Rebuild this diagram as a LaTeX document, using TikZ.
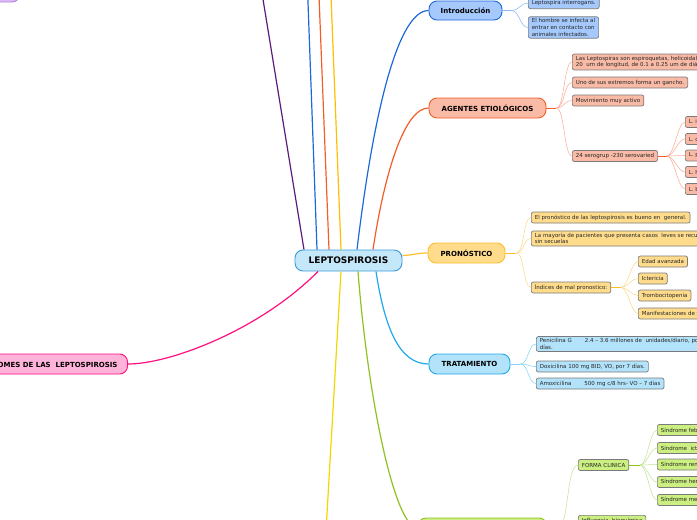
\documentclass[tikz,border=0pt]{standalone}
\usepackage{fontspec}
\setmainfont{DejaVu Sans}
\usetikzlibrary{positioning,calc}

\definecolor{rootfill}{HTML}{C5E7FA}
\definecolor{rootline}{HTML}{3A9BDC}
\definecolor{introline}{HTML}{1D68D8}
\definecolor{introfill}{HTML}{A5C9FC}
\definecolor{introtwig}{HTML}{8DB6F2}
\definecolor{agline}{HTML}{F45D27}
\definecolor{agfill}{HTML}{F9BAA6}
\definecolor{agtwig}{HTML}{F9AF97}
\definecolor{prline}{HTML}{FDBE2C}
\definecolor{prfill}{HTML}{FFDC8C}
\definecolor{prtwig}{HTML}{FDD98A}
\definecolor{trline}{HTML}{1FA9E8}
\definecolor{trfill}{HTML}{B2E3FA}
\definecolor{trtwig}{HTML}{86D3F5}
\definecolor{mcline}{HTML}{8DC21F}
\definecolor{mcfill}{HTML}{CBEF80}
\definecolor{mctwig}{HTML}{C3E497}
\definecolor{syline}{HTML}{FF0F7F}
\definecolor{syfill}{HTML}{FFB3D9}
\definecolor{puline}{HTML}{5B1A7D}
\definecolor{pufill}{HTML}{DDB8F5}
\definecolor{puborder}{HTML}{B283DA}
\definecolor{yeline}{HTML}{F2D600}
\definecolor{upgold}{HTML}{FFBF00}
\definecolor{leafline}{HTML}{7A7A7A}
\definecolor{leaftext}{HTML}{262626}

\tikzset{
  topic/.style={draw, rounded corners=8pt, line width=0.9pt, font=\fontsize{7}{8}\selectfont\bfseries, minimum height=20pt, inner sep=0pt},
  leaf/.style={draw=leafline, rounded corners=2pt, line width=0.7pt, text=leaftext, font=\fontsize{5.5}{6.6}\selectfont, align=left, inner xsep=3.5pt, inner ysep=2pt, minimum height=11pt, anchor=west},
  branch/.style={line width=1.2pt},
  stub/.style={line width=1pt},
  twig/.style={line width=0.55pt},
}

\begin{document}
\begin{tikzpicture}[x=1pt,y=-1pt]
    \useasboundingbox (0,0) rectangle (697,520);

    % Central topic
    \node[topic, fill=rootfill, draw=rootline, minimum width=107pt, minimum height=21pt, font=\fontsize{9}{10}\selectfont\bfseries] (lepto) at (348.5,260.5) {LEPTOSPIROSIS};

    % Main topics
    \node[topic, fill=introfill, draw=introline, minimum width=73pt, minimum height=19pt] (intro) at (465.5,10.5) {Introducción};
    \node[topic, fill=agfill, draw=agline, minimum width=117pt] (agentes) at (487.5,108) {AGENTES ETIOLÓGICOS};
    \node[topic, fill=prfill, draw=prline, minimum width=77pt] (pronos) at (466.5,253) {PRONÓSTICO};
    \node[topic, fill=trfill, draw=trline, minimum width=81pt] (trata) at (469.5,364) {TRATAMIENTO};
    \node[topic, fill=syfill, draw=syline, anchor=east, inner xsep=10pt] (sindromes) at (128,364) {SÍNDROMES DE LAS~ LEPTOSPIROSIS};
    \node[topic, fill=mcfill, draw=mcline, minimum width=129pt] (clinica) at (482.5,528) {};
    \node[topic, fill=pufill, draw=puborder, minimum width=100pt] (origen) at (-30,-8) {};

    % Far ends of branches outside the page
    \coordinate (puend) at (250,-80);
    \coordinate (blend) at (305,-80);
    \coordinate (orend) at (316,-80);
    \coordinate (goend) at (328,-80);
    \coordinate (yeend) at (322,600);

    % Branches
    \draw[branch, puline] ($(lepto.north)+(-44.5,0)$) -- (puend);
    \draw[branch, introline] ($(lepto.north)+(-31.5,0)$) -- (blend);
    \draw[branch, agline] ($(lepto.north)+(-19.5,0)$) -- (orend);
    \draw[branch, upgold] ($(lepto.north)+(-7.5,0)$) -- (goend);
    \draw[branch, introline] ($(lepto.north)+(8.5,0)$) .. controls (375,100) and (400,10.5) .. (intro.west);
    \draw[branch, agline] ($(lepto.north)+(24.5,0)$) .. controls (385,170) and (405,108) .. (agentes.west);
    \draw[branch, prline] ($(lepto.east)+(0,-5)$) .. controls (415,255) and (416,253) .. (pronos.west);
    \draw[branch, trline] ($(lepto.south)+(27.5,0)$) .. controls (385,330) and (400,364) .. (trata.west);
    \draw[branch, mcline] ($(lepto.south)+(9.5,0)$) .. controls (368,400) and (395,528) .. (clinica.west);
    \draw[branch, yeline] ($(lepto.south)+(-7.5,0)$) -- (yeend);
    \draw[branch, syline] ($(lepto.south)+(-30.5,0)$) .. controls (260,330) and (170,364) .. (sindromes.east);

    % Introduccion
    \node[leaf, fill=introfill, anchor=south west] (i1) at (528,9) {Leptospira interrogans.};
    \node[leaf, fill=introfill] (i2) at (528,27.5) {El hombre se infecta al\\entrar en contacto con\\animales infectados.};
    \coordinate (ihub) at ($(intro.east)+(9,0)$);
    \draw[stub, introtwig] (intro.east) -- (ihub);
    \foreach \k in {i1,i2}
        \draw[twig, introtwig] (ihub) .. controls +(8,0) and +(-8,0) .. (\k.west);

    % Agentes etiologicos
    \node[leaf, fill=agfill] (a1) at (572,62) {Las Leptospiras son espiroquetas, helicoidales, de 6 a\\20~ um de longitud, de 0.1 a 0.25 um de diámetro.};
    \node[leaf, fill=agfill] (a2) at (572,82.5) {Uno de sus extremos forma un gancho.};
    \node[leaf, fill=agfill] (a3) at (572,100.5) {Movimiento muy activo};
    \node[leaf, fill=agfill] (a4) at (572,156) {24 serogrup -230 serovaried};
    \coordinate (ahub) at ($(agentes.east)+(10,0)$);
    \draw[stub, agline] (agentes.east) -- (ahub);
    \foreach \k in {a1,a2,a3,a4}
        \draw[twig, agtwig] (ahub) .. controls +(8,0) and +(-8,0) .. (\k.west);

    \node[leaf, fill=agfill] (s1) at (685,122) {L. icterohaemorrhagiae};
    \node[leaf, fill=agfill] (s2) at (685,139) {L. canicola};
    \node[leaf, fill=agfill] (s3) at (685,155.5) {L. pomona};
    \node[leaf, fill=agfill] (s4) at (685,172) {L. hebdomadis};
    \node[leaf, fill=agfill] (s5) at (685,189) {L. bataviae};
    \coordinate (shub) at ($(a4.east)+(9,0)$);
    \draw[stub, agline] (a4.east) -- (shub);
    \foreach \k in {s1,s2,s3,s4,s5}
        \draw[twig, agtwig] (shub) .. controls +(7,0) and +(-7,0) .. (\k.west);

    % Pronostico
    \node[leaf, fill=prfill] (p1) at (531,217.5) {El pronóstico de las leptospirosis es bueno en~ general.};
    \node[leaf, fill=prfill] (p2) at (531,238.5) {La mayoría de pacientes que presenta casos~ leves se recuperan\\sin secuelas};
    \node[leaf, fill=prfill] (p3) at (531,287.5) {Índices de mal pronostico:};
    \coordinate (phub) at ($(pronos.east)+(11,0)$);
    \draw[stub, prline] (pronos.east) -- (phub);
    \foreach \k in {p1,p2,p3}
        \draw[twig, prtwig] (phub) .. controls +(8,0) and +(-8,0) .. (\k.west);

    \node[leaf, fill=prfill] (q1) at (638,261.5) {Edad avanzada};
    \node[leaf, fill=prfill] (q2) at (638,278.5) {Ictericia};
    \node[leaf, fill=prfill] (q3) at (638,295.5) {Trombocitopenia};
    \node[leaf, fill=prfill] (q4) at (638,313.5) {Manifestaciones de sangrado};
    \coordinate (qhub) at ($(p3.east)+(10,0)$);
    \draw[stub, prline] (p3.east) -- (qhub);
    \foreach \k in {q1,q2,q3,q4}
        \draw[twig, prtwig] (qhub) .. controls +(7,0) and +(-7,0) .. (\k.west);

    % Tratamiento
    \node[leaf, fill=trfill] (t1) at (536,344) {Penicilina G\hspace{13pt}2.4 – 3.6 millones de~ unidades/diario, por 7\\días.};
    \node[leaf, fill=trfill] (t2) at (536,366.5) {Doxicilina 100 mg BID, VO, por 7 días.};
    \node[leaf, fill=trfill] (t3) at (536,383.5) {Amoxicilina\hspace{13pt}500 mg c/8 hrs- VO – 7 días};
    \coordinate (thub) at ($(trata.east)+(10,0)$);
    \draw[stub, trtwig] (trata.east) -- (thub);
    \foreach \k in {t1,t2,t3}
        \draw[twig, trtwig] (thub) .. controls +(8,0) and +(-8,0) .. (\k.west);

    % Sindromes / forma clinica
    \node[leaf, fill=mcfill] (m1) at (578,465) {FORMA CLINICA};
    \node[leaf, fill=mcfill, anchor=north west] (m2) at (578,515) {Influencia~ bioquímica};
    \coordinate (mhub) at ($(clinica.east)+(10,0)$);
    \draw[stub, mcline] (clinica.east) -- (mhub);
    \foreach \k in {m1,m2}
        \draw[twig, mctwig] (mhub) .. controls +(12,0) and +(-12,0) .. (\k.west);

    \node[leaf, fill=mcfill] (f1) at (657,430) {Síndrome febril};
    \node[leaf, fill=mcfill] (f2) at (657,448) {Síndrome~ ictérico};
    \node[leaf, fill=mcfill] (f3) at (657,464.5) {Síndrome renal};
    \node[leaf, fill=mcfill] (f4) at (657,482) {Síndrome hemorrágico};
    \node[leaf, fill=mcfill] (f5) at (657,500) {Síndrome meníngeo};
    \coordinate (fhub) at ($(m1.east)+(11,0)$);
    \draw[stub, mcline] (m1.east) -- (fhub);
    \foreach \k in {f1,f2,f3,f4,f5}
        \draw[twig, mctwig] (fhub) .. controls +(7,0) and +(-7,0) .. (\k.west);
\end{tikzpicture}
\end{document}
